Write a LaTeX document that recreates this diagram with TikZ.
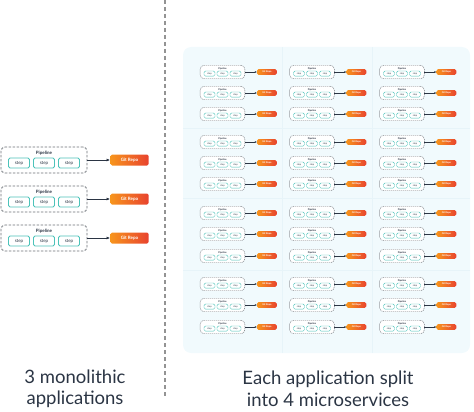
\documentclass[tikz,border=0pt]{standalone}
\usepackage{fontspec}
\setmainfont{Lato}
\usetikzlibrary{arrows.meta,positioning}

\definecolor{textdark}{HTML}{2B3544}
\definecolor{boxgray}{HTML}{6B6F75}
\definecolor{stepline}{HTML}{4DC3BA}
\definecolor{repoorange}{HTML}{F7941D}
\definecolor{repored}{HTML}{E8432E}
\definecolor{panelblue}{HTML}{F1FAFD}
\definecolor{panelline}{HTML}{E7F4F9}

\tikzset{
  pipedash/.style={dash pattern=on 2.5pt off 1.5pt},
  pipearrow/.style={-{Latex[length=3.5pt,width=3pt]}},
  bigpipe/.style={line width=.8pt},
  smallpipe/.style={scale=.52,transform shape,line width=.4pt,
    pipedash/.style={dash pattern=on 1.2pt off .8pt},
    pipearrow/.style={-{Latex[length=2pt,width=1.8pt]}}},
  stepbox/.style={draw=stepline,fill=white,rounded corners=1.5pt,minimum width=21pt,
    minimum height=10pt,inner sep=0pt,text=textdark,font=\fontsize{4.5}{5}\selectfont},
  repobox/.style={rounded corners=1.5pt,left color=repoorange,right color=repored,
    minimum width=38pt,minimum height=11pt,inner sep=0pt,text=white,
    font=\bfseries\fontsize{4.5}{5}\selectfont},
  pipeline/.pic={
    \node[draw=boxgray,pipedash,rounded corners=4pt,fill=white,minimum width=86pt,minimum height=26pt] (-box) {};
    \node[text=textdark,font=\bfseries\fontsize{4.5}{5}\selectfont] (-lbl) at (0,-7) {Pipeline};
    \foreach \i/\x in {1/-25,2/0,3/25}
      \node[stepbox] (-s\i) at (\x,3) {step};
    \node[repobox] (-repo) at (85.5,0) {Git Repo};
    \draw[pipearrow,textdark] (-box) -- (-repo);
  }
}

\begin{document}
\begin{tikzpicture}[x=1pt,y=-1pt]
  \useasboundingbox (0,0) rectangle (474,412);
  % divider
  \draw[gray!85,line width=1.1pt,dash pattern=on 4pt off 3pt] (165,0) -- (165,398);
  % panel behind the microservices
  \fill[panelblue,rounded corners=8pt] (183,47) rectangle (470,353);
  \foreach \x in {282,372}
    \draw[panelline,line width=.6pt] (\x,47) -- (\x,353);
  \foreach \y in {128,198,270}
    \draw[panelline,line width=.6pt] (183,\y) -- (470,\y);

  % monoliths
  \foreach \r/\y in {1/160,2/199,3/238}
    \pic[bigpipe] (app\r) at (44,\y) {pipeline};

  % microservices
  \foreach \c/\x in {1/222.5,2/312,3/402}
    \foreach \r/\y in {1/72,2/93,3/114,4/142,5/163,6/184,7/213,8/234,9/256,10/284,11/305,12/327}
      \pic[smallpipe] (ms\c-\r) at (\x,\y) {pipeline};

  \node[text=textdark,font=\fontsize{18.5}{21.5}\selectfont,align=center] (leftcap) at (75,389) {3 monolithic\\applications};
  \node[text=textdark,font=\fontsize{18.5}{21.5}\selectfont,align=center] (rightcap) at (328,389) {Each application split\\into 4 microservices};
\end{tikzpicture}
\end{document}
